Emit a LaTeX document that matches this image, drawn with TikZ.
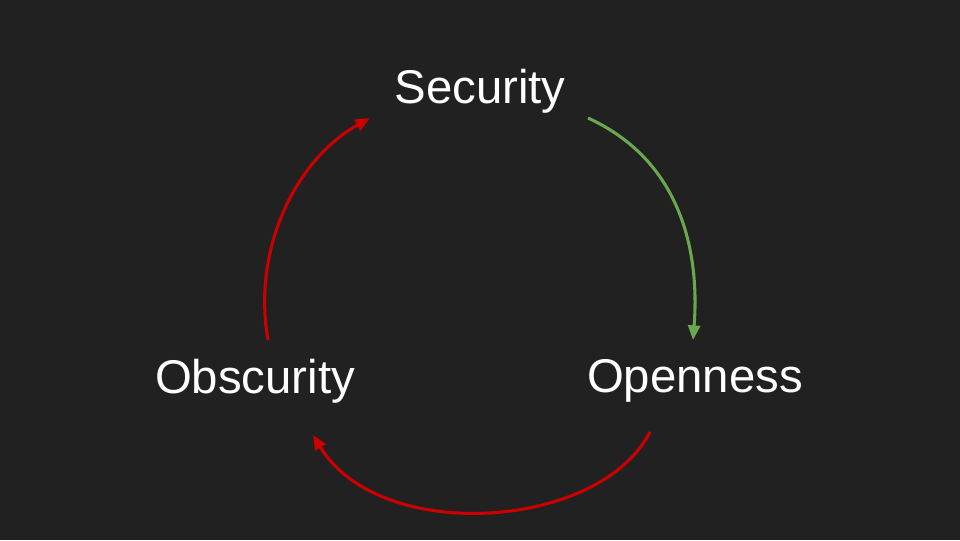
\documentclass[tikz,border=0pt]{standalone}
\usepackage{fontspec}
\setmainfont{Liberation Sans}
\usetikzlibrary{arrows.meta}
\definecolor{bg}{HTML}{212121}
\definecolor{gr}{HTML}{6AA84F}
\definecolor{rd}{HTML}{CC0000}
\begin{document}
\begin{tikzpicture}[x=0.75pt,y=-0.75pt,
  lbl/.style={text=white,font=\fontsize{35.5}{40}\selectfont,inner sep=0pt},
  arc/.style={line width=2.3pt,-{Triangle[length=11pt,width=9pt]}}]
\fill[bg] (0,0) rectangle (960,540);
\useasboundingbox (0,0) rectangle (960,540);
\node[lbl] (sec) at (480,91) {Security};
\node[lbl] (ope) at (695,381) {Openness};
\node[lbl] (obs) at (255,381) {Obscurity};
\coordinate (g1) at (588,118); \coordinate (g2) at (693,340);
\coordinate (b1) at (650,432); \coordinate (b2) at (313,435);
\coordinate (l1) at (268,340); \coordinate (l2) at (370,118);
\draw[arc,gr] (g1) .. controls (680,160) and (700,250) .. (g2);
\draw[arc,rd] (b1) .. controls (600,530) and (380,545) .. (b2);
\draw[arc,rd] (l1) .. controls (252,250) and (295,160) .. (l2);
\end{tikzpicture}
\end{document}
